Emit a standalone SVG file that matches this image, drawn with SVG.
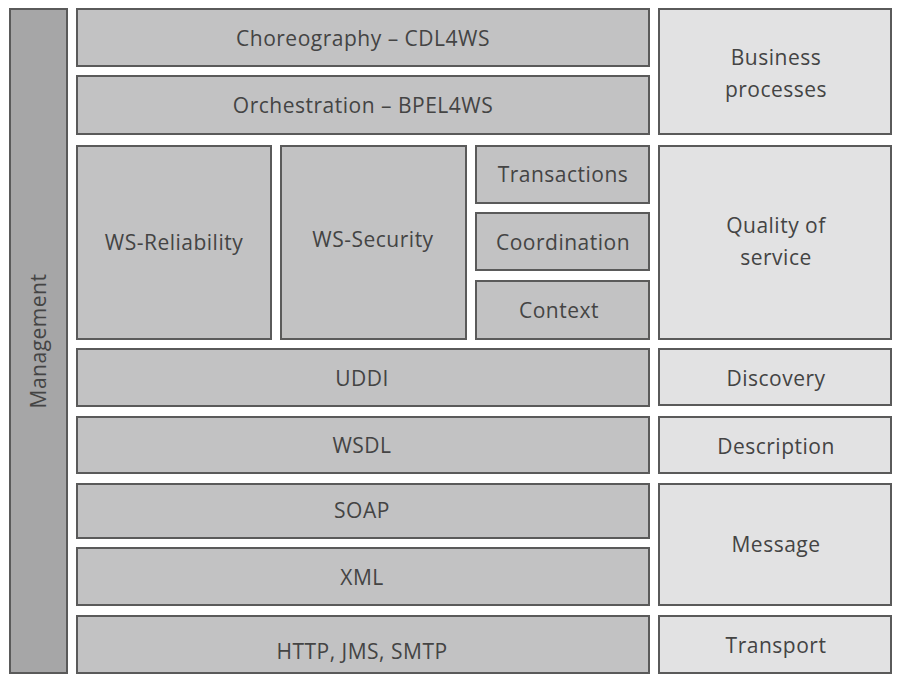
<svg xmlns="http://www.w3.org/2000/svg" width="908" height="685" viewBox="0 0 908 685">
<style>
rect{stroke:#5a5a5a;stroke-width:2}
.m{fill:#c2c2c3}.r{fill:#e2e2e3}.g{fill:#a6a6a7}
text{font-family:"Open Sans","DejaVu Sans",sans-serif;font-size:21px;fill:#444;text-anchor:middle;dominant-baseline:central;letter-spacing:0.5px}
</style>
<rect width="908" height="685" fill="#fff" style="stroke:none"/>
<g id="management"><rect class="g" x="10" y="9" width="57" height="664"/><text transform="translate(38,341) rotate(-90)">Management</text></g>
<g id="choreography"><rect class="m" x="77" y="9" width="572" height="57"/><text x="363" y="38">Choreography – CDL4WS</text></g>
<g id="orchestration"><rect class="m" x="77" y="76" width="572" height="58"/><text x="363" y="105">Orchestration – BPEL4WS</text></g>
<g id="wsrel"><rect class="m" x="77" y="146" width="194" height="193"/><text x="174" y="242">WS-Reliability</text></g>
<g id="wssec"><rect class="m" x="281" y="146" width="185" height="193"/><text x="373" y="239">WS-Security</text></g>
<g id="transactions"><rect class="m" x="476" y="146" width="173" height="57"/><text x="563" y="174">Transactions</text></g>
<g id="coordination"><rect class="m" x="476" y="213" width="173" height="57"/><text x="563" y="242">Coordination</text></g>
<g id="context"><rect class="m" x="476" y="281" width="173" height="58"/><text x="559" y="310">Context</text></g>
<g id="uddi"><rect class="m" x="77" y="349" width="572" height="57"/><text x="362" y="378">UDDI</text></g>
<g id="wsdl"><rect class="m" x="77" y="417" width="572" height="56"/><text x="362" y="445">WSDL</text></g>
<g id="soap"><rect class="m" x="77" y="484" width="572" height="54"/><text x="362" y="510">SOAP</text></g>
<g id="xml"><rect class="m" x="77" y="548" width="572" height="57"/><text x="362" y="577">XML</text></g>
<g id="http"><rect class="m" x="77" y="616" width="572" height="57"/><text x="362" y="651">HTTP, JMS, SMTP</text></g>
<g id="business"><rect class="r" x="659" y="9" width="232" height="125"/><text x="776" y="57">Business</text><text x="776" y="89">processes</text></g>
<g id="quality"><rect class="r" x="659" y="146" width="232" height="193"/><text x="776" y="225">Quality of</text><text x="776" y="257">service</text></g>
<g id="discovery"><rect class="r" x="659" y="349" width="232" height="56"/><text x="776" y="378">Discovery</text></g>
<g id="description"><rect class="r" x="659" y="417" width="232" height="56"/><text x="776" y="446">Description</text></g>
<g id="message"><rect class="r" x="659" y="484" width="232" height="121"/><text x="776" y="544">Message</text></g>
<g id="transport"><rect class="r" x="659" y="616" width="232" height="57"/><text x="776" y="645">Transport</text></g>
<g id="connectors"/>
</svg>
